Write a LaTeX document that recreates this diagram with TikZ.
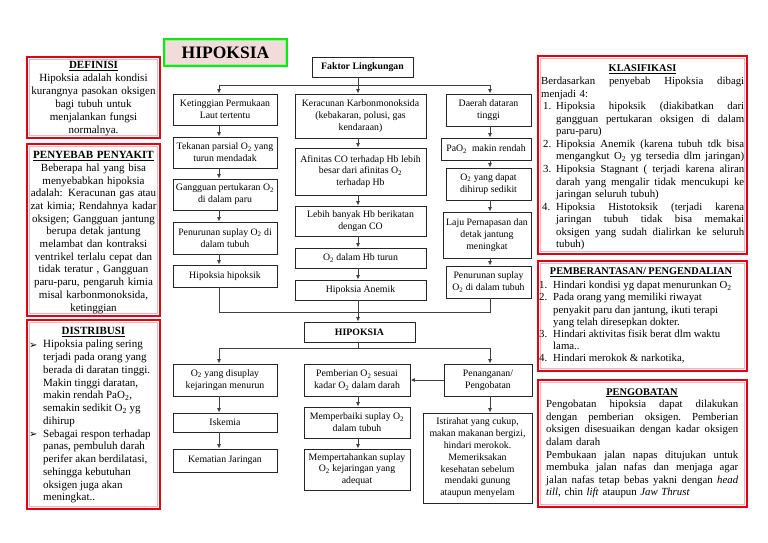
\documentclass[tikz,border=0pt]{standalone}
\usepackage{fontspec}
\setmainfont{Liberation Serif}
\newfontfamily\dejavu{DejaVu Sans}
\usetikzlibrary{arrows.meta}
\definecolor{rd}{RGB}{228,0,20}
\definecolor{gr}{RGB}{20,230,20}
\definecolor{pk}{RGB}{242,220,219}
\newcommand\Otwo{O\textsubscript{2}}
\newcommand\fC{\fontsize{9.8}{11.8}\selectfont}
\newcommand\fL{\fontsize{11}{13}\selectfont}
\newcommand\fR{\fontsize{10.8}{12.55}\selectfont}
\newcommand\J[2]{{\spaceskip=\fontdimen2\font plus 1fil\relax\xspaceskip=\spaceskip\makebox[#1][s]{#2}}}
\newcommand\Ind[1]{\hspace*{#1}}
\newcommand\Num[2]{\makebox[#1][l]{#2}}
\newcommand\bul{\makebox[14pt][l]{\raisebox{-0.3pt}{\dejavu\fontsize{10}{10}\selectfont ➢}}}
\newcommand\bx[7][]{\node[box,#1,minimum width={#5-#3},minimum height={#6-#4}] (#2) at ({(#3+#5)/2},{(#4+#6)/2}) {#7};}
\newcommand\panel[4]{\draw[rd,line width=2pt] (#1,#2) rectangle (#3,#4); \draw[rd!30,line width=0.7pt] ({#1+2.2},{#2+2.2}) rectangle ({#3-2.2},{#4-2.2});}
\begin{document}
\begin{tikzpicture}[x=1pt,y=-1pt,
 box/.style={draw=black!85,line width=0.9pt,fill=white,align=center,inner sep=1pt,font=\fC},
 ln/.style={draw=black!75,line width=0.8pt},
 arr/.style={ln,-{Latex[length=4.5pt,width=4pt]}},
 ttl/.style={inner sep=0pt,anchor=north,font=\bfseries\fontsize{10.3}{12}\selectfont},
 txt/.style={inner sep=0pt}]
\fill[white] (0,0) rectangle (768,543);
\useasboundingbox (0,0) rectangle (768,543);

% ---------- left panels ----------
\panel{27}{57}{160}{138}
\node[txt,anchor=north,text width=133pt,align=center,font=\fL] (defi) at (93.5,61.5)
 {\textbf{\underline{DEFINISI}}\\Hipoksia adalah kondisi\\kurangnya pasokan oksigen\\bagi tubuh untuk\\menjalankan fungsi\\normalnya.};

\panel{27}{144}{160}{316}
\node[txt,anchor=north,text width=133pt,align=center,font=\fontsize{11}{12.67}\selectfont] (peny) at (93.5,151.5)
 {\textbf{\underline{PENYEBAB PENYAKIT}}\\Beberapa hal yang bisa\\menyebabkan hipoksia\\adalah: Keracunan gas atau\\zat kimia; Rendahnya kadar\\oksigen; Gangguan jantung\\berupa detak jantung\\melambat dan kontraksi\\ventrikel terlalu cepat dan\\tidak teratur , Gangguan\\paru-paru, pengaruh kimia\\misal karbonmonoksida,\\ketinggian};

\panel{27}{320}{160}{509}
\node[txt,anchor=north,font=\fL\bfseries] (disT) at (93.5,327.5) {\underline{DISTRIBUSI}};
\node[txt,anchor=north west,align=left,font=\fontsize{11}{12.75}\selectfont] (disL) at (29,340)
 {\bul Hipoksia paling sering\\
  \Ind{14pt}terjadi pada orang yang\\
  \Ind{14pt}berada di daratan tinggi.\\
  \Ind{14pt}Makin tinggi daratan,\\
  \Ind{14pt}makin rendah PaO\textsubscript{2},\\
  \Ind{14pt}semakin sedikit \Otwo{} yg\\
  \Ind{14pt}dihirup\\
  \bul Sebagai respon terhadap\\
  \Ind{14pt}panas, pembuluh darah\\
  \Ind{14pt}perifer akan berdilatasi,\\
  \Ind{14pt}sehingga kebutuhan\\
  \Ind{14pt}oksigen juga akan\\
  \Ind{14pt}meningkat..};

% ---------- right panels ----------
\panel{538}{56}{747}{254}
\node[ttl] (klaT) at (642.5,64.5) {\underline{KLASIFIKASI}};
\node[txt,anchor=north west,align=left,text width=203pt,font=\fR] (klaB) at (541,77)
 {\J{203pt}{Berdasarkan penyebab Hipoksia dibagi}\\
  menjadi 4:\\
  \Num{15pt}{\hspace{2pt}1.}\J{188pt}{Hipoksia hipoksik (diakibatkan dari}\\
  \Ind{15pt}\J{188pt}{gangguan pertukaran oksigen di dalam}\\
  \Ind{15pt}paru-paru)\\
  \Num{15pt}{\hspace{2pt}2.}\J{188pt}{Hipoksia Anemik (karena tubuh tdk bisa}\\
  \Ind{15pt}\J{188pt}{mengangkut \Otwo{} yg tersedia dlm jaringan)}\\
  \Num{15pt}{\hspace{2pt}3.}\J{188pt}{Hipoksia Stagnant ( terjadi karena aliran}\\
  \Ind{15pt}\J{188pt}{darah yang mengalir tidak mencukupi ke}\\
  \Ind{15pt}jaringan seluruh tubuh)\\
  \Num{15pt}{\hspace{1pt}4.}\J{188pt}{Hipoksia Histotoksik (terjadi karena}\\
  \Ind{15pt}\J{188pt}{jaringan tubuh tidak bisa memakai}\\
  \Ind{15pt}\J{188pt}{oksigen yang sudah dialirkan ke seluruh}\\
  \Ind{15pt}tubuh)};

\panel{538}{261}{747}{371}
\node[ttl] (pemT) at (641,267.5) {\underline{PEMBERANTASAN/ PENGENDALIAN}};
\node[txt,anchor=north west,align=left,font=\fontsize{10.8}{12.2}\selectfont] (pemB) at (539,281)
 {\Num{14pt}{1.}Hindari kondisi yg dapat menurunkan \Otwo\\
  \Num{14pt}{2.}Pada orang yang memiliki riwayat\\
  \Ind{14pt}penyakit paru dan jantung, ikuti terapi\\
  \Ind{14pt}yang telah diresepkan dokter.\\
  \Num{14pt}{3.}Hindari aktivitas fisik berat dlm waktu\\
  \Ind{14pt}lama..\\
  \Num{14pt}{4.}Hindari merokok \& narkotika,};

\panel{538}{380}{747}{507}
\node[ttl] (pgoT) at (642,388) {\underline{PENGOBATAN}};
\node[txt,anchor=north west,align=left,text width=192pt,font=\fontsize{10.8}{12.6}\selectfont] (pgoB) at (546,400)
 {\J{192pt}{Pengobatan hipoksia dapat dilakukan}\\
  \J{192pt}{dengan pemberian oksigen. Pemberian}\\
  \J{192pt}{oksigen disesuaikan dengan kadar oksigen}\\
  dalam darah\\
  \J{192pt}{Pembukaan jalan napas ditujukan untuk}\\
  \J{192pt}{membuka jalan nafas dan menjaga agar}\\
  \J{192pt}{jalan nafas tetap bebas yakni dengan \textit{head}}\\
  \textit{till}, chin \textit{lift} ataupun \textit{Jaw Thrust}};

% ---------- title ----------
\node[draw=gr,line width=3pt,fill=pk,minimum width=122,minimum height=26,inner sep=0pt,
 font=\bfseries\fontsize{17.5}{20}\selectfont] (hipT) at (225.5,52.5) {HIPOKSIA};
\draw[gr!45!white,line width=0.8pt] ([shift={(2.6,2.6)}]hipT.north west) rectangle ([shift={(-2.6,-2.6)}]hipT.south east);

% ---------- flow boxes ----------
\bx[font=\bfseries\fC]{fak}{312}{57}{413}{77}{Faktor Lingkungan}
\bx{a1}{173}{94}{277}{125}{Ketinggian Permukaan\\Laut tertentu}
\bx{a2}{173}{137}{277}{168}{Tekanan parsial \Otwo{} yang\\turun mendadak}
\bx{a3}{173}{179}{277}{210}{Gangguan pertukaran \Otwo\\di dalam paru}
\bx{a4}{173}{222}{277}{254}{Penurunan suplay \Otwo{} di\\dalam tubuh}
\bx{a5}{173}{265}{277}{287}{Hipoksia hipoksik}
\bx{b1}{295}{94}{426}{138}{Keracunan Karbonmonoksida\\(kebakaran, polusi, gas\\kendaraan)}
\bx{b2}{295}{148}{426}{195}{Afinitas CO terhadap Hb lebih\\besar dari afinitas \Otwo\\terhadap Hb}
\bx{b3}{295}{206}{426}{236}{Lebih banyak Hb berikatan\\dengan CO}
\bx{b4}{295}{248}{426}{268}{\Otwo{} dalam Hb turun}
\bx{b5}{295}{280}{426}{300}{Hipoksia Anemik}
\bx{c1}{446}{94}{531}{126}{Daerah dataran\\tinggi}
\bx{c2}{441}{138}{531}{160}{PaO\textsubscript{2}\ \ makin rendah}
\bx{c3}{446}{168}{531}{200}{\Otwo{} yang dapat\\dihirup sedikit}
\bx{c4}{443}{212}{531}{258}{Laju Pernapasan dan\\detak jantung\\meningkat}
\bx{c5}{446}{266}{531}{298}{Penurunan suplay\\\Otwo{} di dalam tubuh}
\bx[font=\bfseries\fC]{hip}{304}{322}{415}{342}{HIPOKSIA}
\bx{d1}{173}{364}{277}{396}{\Otwo{} yang disuplay\\kejaringan menurun}
\bx{d2}{173}{413}{277}{432}{Iskemia}
\bx{d3}{173}{449}{277}{472}{Kematian Jaringan}
\bx{e1}{304}{364}{410}{396}{Pemberian \Otwo{} sesuai\\kadar \Otwo{} dalam darah}
\bx{e2}{304}{407}{410}{438}{Memperbaiki suplay \Otwo\\dalam tubuh}
\bx{e3}{304}{449}{410}{490}{Mempertahankan suplay\\\Otwo{} kejaringan yang\\adequat}
\bx{f1}{444}{364}{532}{396}{Penanganan/\\Pengobatan}
\bx{f2}{423}{413}{532}{503}{Istirahat yang cukup,\\makan makanan bergizi,\\hindari merokok.\\Memeriksakan\\kesehatan sebelum\\mendaki gunung\\ataupun menyelam}

% ---------- connectors ----------
\coordinate (xL) at (219,0);
\coordinate (xM) at (358,0);
\coordinate (xR) at (490,0);
\coordinate (t1) at (219,85);
\coordinate (t2) at (490,85);
\draw[arr] (fak.south -| xM) -- (b1.north -| xM);
\draw[ln] (t1) -- (t2);
\draw[arr] (t1) -- (a1.north -| t1);
\draw[arr] (t2) -- (c1.north -| t2);
\foreach \p/\q in {a1/a2,a2/a3,a3/a4,a4/a5,d1/d2,d2/d3}
  \draw[arr] (\p.south -| xL) -- (\q.north -| xL);
\foreach \p/\q in {b1/b2,b2/b3,b3/b4,b4/b5,e1/e2,e2/e3}
  \draw[arr] (\p.south -| xM) -- (\q.north -| xM);
\foreach \p/\q in {c1/c2,c2/c3,c3/c4,c4/c5,f1/f2}
  \draw[arr] (\p.south -| xR) -- (\q.north -| xR);
\coordinate (u1) at (219,312);
\coordinate (u2) at (358,312);
\coordinate (u3) at (490,312);
\draw[ln] (a5.south -| xL) -- (u1) -- (u3) -- (c5.south -| xR);
\draw[ln] (b5.south -| xM) -- (u2);
\draw[arr] (u2) -- (hip.north -| xM);
\coordinate (v1) at (219,348);
\coordinate (v2) at (358,348);
\coordinate (v3) at (490,348);
\draw[ln] (hip.south -| xM) -- (v2);
\draw[ln] (v1) -- (v3);
\draw[arr] (v1) -- (d1.north -| v1);
\draw[arr] (v3) -- (f1.north -| v3);
\draw[arr] (f1.west) -- (e1.east |- f1.west);
\end{tikzpicture}
\end{document}
